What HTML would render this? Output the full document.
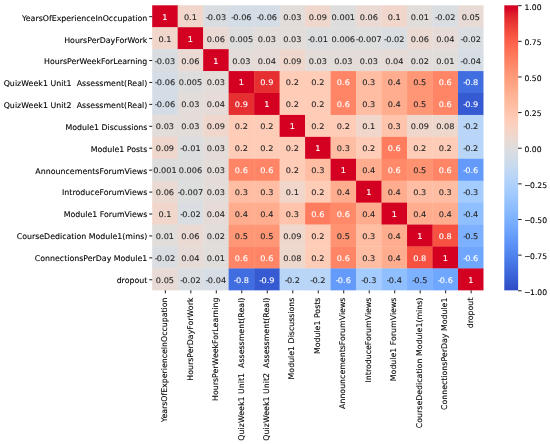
<!DOCTYPE html>
<html lang="en"><head><meta charset="utf-8"><title>Correlation heatmap</title>
<style>html,body{margin:0;padding:0;background:#fff}body{width:550px;height:444px;overflow:hidden}svg{display:block;filter:blur(0.4px)}text{font-family:"DejaVu Sans","Liberation Sans",sans-serif;font-size:7.85px;white-space:pre}.c{font-size:7.65px}.a{font-size:7.75px}.d{fill:#262626;stroke:#262626}.w{fill:#fff;stroke:#fff}.k{fill:#000;stroke:#000}text{stroke-width:0.1px}.m{text-anchor:middle}.e{text-anchor:end}</style></head><body>
<svg width="550" height="444" viewBox="0 0 550 444">
<defs><linearGradient id="cb" x1="0" y1="0" x2="0" y2="1">
<stop offset="0.0000" stop-color="#d30022"/>
<stop offset="0.0156" stop-color="#d80926"/>
<stop offset="0.0312" stop-color="#de1e2a"/>
<stop offset="0.0469" stop-color="#e42c2f"/>
<stop offset="0.0625" stop-color="#e93834"/>
<stop offset="0.0781" stop-color="#ee4339"/>
<stop offset="0.0938" stop-color="#f34d3e"/>
<stop offset="0.1094" stop-color="#f85644"/>
<stop offset="0.1250" stop-color="#fc5e49"/>
<stop offset="0.1406" stop-color="#ff674f"/>
<stop offset="0.1562" stop-color="#ff6f54"/>
<stop offset="0.1719" stop-color="#ff775a"/>
<stop offset="0.1875" stop-color="#ff7e60"/>
<stop offset="0.2031" stop-color="#ff8566"/>
<stop offset="0.2188" stop-color="#ff8d6c"/>
<stop offset="0.2344" stop-color="#ff9373"/>
<stop offset="0.2500" stop-color="#ff9a79"/>
<stop offset="0.2656" stop-color="#ffa07f"/>
<stop offset="0.2812" stop-color="#ffa686"/>
<stop offset="0.2969" stop-color="#ffac8c"/>
<stop offset="0.3125" stop-color="#ffb293"/>
<stop offset="0.3281" stop-color="#ffb799"/>
<stop offset="0.3438" stop-color="#ffbc9f"/>
<stop offset="0.3594" stop-color="#ffc0a6"/>
<stop offset="0.3750" stop-color="#ffc5ac"/>
<stop offset="0.3906" stop-color="#ffc9b3"/>
<stop offset="0.4062" stop-color="#fecdb9"/>
<stop offset="0.4219" stop-color="#fad0bf"/>
<stop offset="0.4375" stop-color="#f6d4c5"/>
<stop offset="0.4531" stop-color="#f0d6cb"/>
<stop offset="0.4688" stop-color="#ebd9d1"/>
<stop offset="0.4844" stop-color="#e5dbd7"/>
<stop offset="0.5000" stop-color="#dedddd"/>
<stop offset="0.5156" stop-color="#d9dde2"/>
<stop offset="0.5312" stop-color="#d4dce6"/>
<stop offset="0.5469" stop-color="#cedbea"/>
<stop offset="0.5625" stop-color="#c8daee"/>
<stop offset="0.5781" stop-color="#c2d8f2"/>
<stop offset="0.5938" stop-color="#bcd6f5"/>
<stop offset="0.6094" stop-color="#b6d4f8"/>
<stop offset="0.6250" stop-color="#b0d1fb"/>
<stop offset="0.6406" stop-color="#aacefc"/>
<stop offset="0.6562" stop-color="#a3cbfe"/>
<stop offset="0.6719" stop-color="#9dc7ff"/>
<stop offset="0.6875" stop-color="#96c3ff"/>
<stop offset="0.7031" stop-color="#90bfff"/>
<stop offset="0.7188" stop-color="#8abbff"/>
<stop offset="0.7344" stop-color="#84b6ff"/>
<stop offset="0.7500" stop-color="#7db1ff"/>
<stop offset="0.7656" stop-color="#77acff"/>
<stop offset="0.7812" stop-color="#71a7fe"/>
<stop offset="0.7969" stop-color="#6ba2fc"/>
<stop offset="0.8125" stop-color="#659cfa"/>
<stop offset="0.8281" stop-color="#6096f8"/>
<stop offset="0.8438" stop-color="#5a90f5"/>
<stop offset="0.8594" stop-color="#558af1"/>
<stop offset="0.8750" stop-color="#5083ee"/>
<stop offset="0.8906" stop-color="#4b7dea"/>
<stop offset="0.9062" stop-color="#4676e6"/>
<stop offset="0.9219" stop-color="#426fe1"/>
<stop offset="0.9375" stop-color="#3d68dc"/>
<stop offset="0.9531" stop-color="#3961d6"/>
<stop offset="0.9688" stop-color="#355ad1"/>
<stop offset="0.9844" stop-color="#3252cb"/>
<stop offset="1.0000" stop-color="#2e4bc5"/>
</linearGradient></defs>
<rect width="550" height="444" fill="#fff"/>
<g>
<rect x="152.20" y="5.30" width="25.78" height="22.23" fill="#d30022"/>
<rect x="177.68" y="5.30" width="25.78" height="22.23" fill="#f0d6cb"/>
<rect x="203.17" y="5.30" width="25.78" height="22.23" fill="#d9dde2"/>
<rect x="228.65" y="5.30" width="25.78" height="22.23" fill="#d4dce6"/>
<rect x="254.14" y="5.30" width="25.78" height="22.23" fill="#d4dce6"/>
<rect x="279.62" y="5.30" width="25.78" height="22.23" fill="#e3dcd9"/>
<rect x="305.11" y="5.30" width="25.78" height="22.23" fill="#efd7cd"/>
<rect x="330.59" y="5.30" width="25.78" height="22.23" fill="#dedddd"/>
<rect x="356.08" y="5.30" width="25.78" height="22.23" fill="#eadad3"/>
<rect x="381.56" y="5.30" width="25.78" height="22.23" fill="#f0d6cb"/>
<rect x="407.05" y="5.30" width="25.78" height="22.23" fill="#e0dddb"/>
<rect x="432.53" y="5.30" width="25.78" height="22.23" fill="#dadde1"/>
<rect x="458.02" y="5.30" width="25.48" height="22.23" fill="#e8dad4"/>
<rect x="152.20" y="27.23" width="25.78" height="22.23" fill="#f0d6cb"/>
<rect x="177.68" y="27.23" width="25.78" height="22.23" fill="#d30022"/>
<rect x="203.17" y="27.23" width="25.78" height="22.23" fill="#eadad3"/>
<rect x="228.65" y="27.23" width="25.78" height="22.23" fill="#dedddd"/>
<rect x="254.14" y="27.23" width="25.78" height="22.23" fill="#e3dcd9"/>
<rect x="279.62" y="27.23" width="25.78" height="22.23" fill="#e3dcd9"/>
<rect x="305.11" y="27.23" width="25.78" height="22.23" fill="#dcdddf"/>
<rect x="330.59" y="27.23" width="25.78" height="22.23" fill="#dedddd"/>
<rect x="356.08" y="27.23" width="25.78" height="22.23" fill="#dddede"/>
<rect x="381.56" y="27.23" width="25.78" height="22.23" fill="#dadde1"/>
<rect x="407.05" y="27.23" width="25.78" height="22.23" fill="#eadad3"/>
<rect x="432.53" y="27.23" width="25.78" height="22.23" fill="#e6dbd6"/>
<rect x="458.02" y="27.23" width="25.48" height="22.23" fill="#dadde1"/>
<rect x="152.20" y="49.15" width="25.78" height="22.23" fill="#d9dde2"/>
<rect x="177.68" y="49.15" width="25.78" height="22.23" fill="#eadad3"/>
<rect x="203.17" y="49.15" width="25.78" height="22.23" fill="#d30022"/>
<rect x="228.65" y="49.15" width="25.78" height="22.23" fill="#e3dcd9"/>
<rect x="254.14" y="49.15" width="25.78" height="22.23" fill="#e6dbd6"/>
<rect x="279.62" y="49.15" width="25.78" height="22.23" fill="#efd7cd"/>
<rect x="305.11" y="49.15" width="25.78" height="22.23" fill="#e3dcd9"/>
<rect x="330.59" y="49.15" width="25.78" height="22.23" fill="#e3dcd9"/>
<rect x="356.08" y="49.15" width="25.78" height="22.23" fill="#e3dcd9"/>
<rect x="381.56" y="49.15" width="25.78" height="22.23" fill="#e6dbd6"/>
<rect x="407.05" y="49.15" width="25.78" height="22.23" fill="#e2dcda"/>
<rect x="432.53" y="49.15" width="25.78" height="22.23" fill="#e0dddb"/>
<rect x="458.02" y="49.15" width="25.48" height="22.23" fill="#d6dde4"/>
<rect x="152.20" y="71.08" width="25.78" height="22.23" fill="#d4dce6"/>
<rect x="177.68" y="71.08" width="25.78" height="22.23" fill="#dedddd"/>
<rect x="203.17" y="71.08" width="25.78" height="22.23" fill="#e3dcd9"/>
<rect x="228.65" y="71.08" width="25.78" height="22.23" fill="#d30022"/>
<rect x="254.14" y="71.08" width="25.78" height="22.23" fill="#e52f30"/>
<rect x="279.62" y="71.08" width="25.78" height="22.23" fill="#ffccb7"/>
<rect x="305.11" y="71.08" width="25.78" height="22.23" fill="#ffccb7"/>
<rect x="330.59" y="71.08" width="25.78" height="22.23" fill="#ff8566"/>
<rect x="356.08" y="71.08" width="25.78" height="22.23" fill="#ffbea3"/>
<rect x="381.56" y="71.08" width="25.78" height="22.23" fill="#ffad8e"/>
<rect x="407.05" y="71.08" width="25.78" height="22.23" fill="#ff9776"/>
<rect x="432.53" y="71.08" width="25.78" height="22.23" fill="#ff8566"/>
<rect x="458.02" y="71.08" width="25.48" height="22.23" fill="#406de0"/>
<rect x="152.20" y="93.01" width="25.78" height="22.23" fill="#d4dce6"/>
<rect x="177.68" y="93.01" width="25.78" height="22.23" fill="#e3dcd9"/>
<rect x="203.17" y="93.01" width="25.78" height="22.23" fill="#e6dbd6"/>
<rect x="228.65" y="93.01" width="25.78" height="22.23" fill="#e52f30"/>
<rect x="254.14" y="93.01" width="25.78" height="22.23" fill="#d30022"/>
<rect x="279.62" y="93.01" width="25.78" height="22.23" fill="#ffccb7"/>
<rect x="305.11" y="93.01" width="25.78" height="22.23" fill="#ffccb7"/>
<rect x="330.59" y="93.01" width="25.78" height="22.23" fill="#ff8566"/>
<rect x="356.08" y="93.01" width="25.78" height="22.23" fill="#ffbea3"/>
<rect x="381.56" y="93.01" width="25.78" height="22.23" fill="#ffad8e"/>
<rect x="407.05" y="93.01" width="25.78" height="22.23" fill="#ff9776"/>
<rect x="432.53" y="93.01" width="25.78" height="22.23" fill="#ff8566"/>
<rect x="458.02" y="93.01" width="25.48" height="22.23" fill="#355ad1"/>
<rect x="152.20" y="114.93" width="25.78" height="22.23" fill="#e3dcd9"/>
<rect x="177.68" y="114.93" width="25.78" height="22.23" fill="#e3dcd9"/>
<rect x="203.17" y="114.93" width="25.78" height="22.23" fill="#efd7cd"/>
<rect x="228.65" y="114.93" width="25.78" height="22.23" fill="#ffccb7"/>
<rect x="254.14" y="114.93" width="25.78" height="22.23" fill="#ffccb7"/>
<rect x="279.62" y="114.93" width="25.78" height="22.23" fill="#d30022"/>
<rect x="305.11" y="114.93" width="25.78" height="22.23" fill="#ffccb7"/>
<rect x="330.59" y="114.93" width="25.78" height="22.23" fill="#ffccb7"/>
<rect x="356.08" y="114.93" width="25.78" height="22.23" fill="#f0d6cb"/>
<rect x="381.56" y="114.93" width="25.78" height="22.23" fill="#ffc4ab"/>
<rect x="407.05" y="114.93" width="25.78" height="22.23" fill="#efd7cd"/>
<rect x="432.53" y="114.93" width="25.78" height="22.23" fill="#eed8ce"/>
<rect x="458.02" y="114.93" width="25.48" height="22.23" fill="#b9d5f7"/>
<rect x="152.20" y="136.86" width="25.78" height="22.23" fill="#efd7cd"/>
<rect x="177.68" y="136.86" width="25.78" height="22.23" fill="#dcdddf"/>
<rect x="203.17" y="136.86" width="25.78" height="22.23" fill="#e3dcd9"/>
<rect x="228.65" y="136.86" width="25.78" height="22.23" fill="#ffccb7"/>
<rect x="254.14" y="136.86" width="25.78" height="22.23" fill="#ffccb7"/>
<rect x="279.62" y="136.86" width="25.78" height="22.23" fill="#ffccb7"/>
<rect x="305.11" y="136.86" width="25.78" height="22.23" fill="#d30022"/>
<rect x="330.59" y="136.86" width="25.78" height="22.23" fill="#ffbea3"/>
<rect x="356.08" y="136.86" width="25.78" height="22.23" fill="#ffccb7"/>
<rect x="381.56" y="136.86" width="25.78" height="22.23" fill="#ff7c5f"/>
<rect x="407.05" y="136.86" width="25.78" height="22.23" fill="#ffccb7"/>
<rect x="432.53" y="136.86" width="25.78" height="22.23" fill="#ffccb7"/>
<rect x="458.02" y="136.86" width="25.48" height="22.23" fill="#b9d5f7"/>
<rect x="152.20" y="158.79" width="25.78" height="22.23" fill="#dedddd"/>
<rect x="177.68" y="158.79" width="25.78" height="22.23" fill="#dedddd"/>
<rect x="203.17" y="158.79" width="25.78" height="22.23" fill="#e3dcd9"/>
<rect x="228.65" y="158.79" width="25.78" height="22.23" fill="#ff8566"/>
<rect x="254.14" y="158.79" width="25.78" height="22.23" fill="#ff8566"/>
<rect x="279.62" y="158.79" width="25.78" height="22.23" fill="#ffccb7"/>
<rect x="305.11" y="158.79" width="25.78" height="22.23" fill="#ffbea3"/>
<rect x="330.59" y="158.79" width="25.78" height="22.23" fill="#d30022"/>
<rect x="356.08" y="158.79" width="25.78" height="22.23" fill="#ffad8e"/>
<rect x="381.56" y="158.79" width="25.78" height="22.23" fill="#ff8969"/>
<rect x="407.05" y="158.79" width="25.78" height="22.23" fill="#ff9271"/>
<rect x="432.53" y="158.79" width="25.78" height="22.23" fill="#ff8566"/>
<rect x="458.02" y="158.79" width="25.48" height="22.23" fill="#649afa"/>
<rect x="152.20" y="180.72" width="25.78" height="22.23" fill="#eadad3"/>
<rect x="177.68" y="180.72" width="25.78" height="22.23" fill="#dddede"/>
<rect x="203.17" y="180.72" width="25.78" height="22.23" fill="#e3dcd9"/>
<rect x="228.65" y="180.72" width="25.78" height="22.23" fill="#ffbea3"/>
<rect x="254.14" y="180.72" width="25.78" height="22.23" fill="#ffbea3"/>
<rect x="279.62" y="180.72" width="25.78" height="22.23" fill="#f0d6cb"/>
<rect x="305.11" y="180.72" width="25.78" height="22.23" fill="#ffccb7"/>
<rect x="330.59" y="180.72" width="25.78" height="22.23" fill="#ffad8e"/>
<rect x="356.08" y="180.72" width="25.78" height="22.23" fill="#d30022"/>
<rect x="381.56" y="180.72" width="25.78" height="22.23" fill="#ffad8e"/>
<rect x="407.05" y="180.72" width="25.78" height="22.23" fill="#ffbea3"/>
<rect x="432.53" y="180.72" width="25.78" height="22.23" fill="#ffbea3"/>
<rect x="458.02" y="180.72" width="25.48" height="22.23" fill="#a5ccfe"/>
<rect x="152.20" y="202.64" width="25.78" height="22.23" fill="#f0d6cb"/>
<rect x="177.68" y="202.64" width="25.78" height="22.23" fill="#dadde1"/>
<rect x="203.17" y="202.64" width="25.78" height="22.23" fill="#e6dbd6"/>
<rect x="228.65" y="202.64" width="25.78" height="22.23" fill="#ffad8e"/>
<rect x="254.14" y="202.64" width="25.78" height="22.23" fill="#ffad8e"/>
<rect x="279.62" y="202.64" width="25.78" height="22.23" fill="#ffc4ab"/>
<rect x="305.11" y="202.64" width="25.78" height="22.23" fill="#ff7c5f"/>
<rect x="330.59" y="202.64" width="25.78" height="22.23" fill="#ff8969"/>
<rect x="356.08" y="202.64" width="25.78" height="22.23" fill="#ffad8e"/>
<rect x="381.56" y="202.64" width="25.78" height="22.23" fill="#d30022"/>
<rect x="407.05" y="202.64" width="25.78" height="22.23" fill="#ffad8e"/>
<rect x="432.53" y="202.64" width="25.78" height="22.23" fill="#ffad8e"/>
<rect x="458.02" y="202.64" width="25.48" height="22.23" fill="#90bfff"/>
<rect x="152.20" y="224.57" width="25.78" height="22.23" fill="#e0dddb"/>
<rect x="177.68" y="224.57" width="25.78" height="22.23" fill="#eadad3"/>
<rect x="203.17" y="224.57" width="25.78" height="22.23" fill="#e2dcda"/>
<rect x="228.65" y="224.57" width="25.78" height="22.23" fill="#ff9776"/>
<rect x="254.14" y="224.57" width="25.78" height="22.23" fill="#ff9776"/>
<rect x="279.62" y="224.57" width="25.78" height="22.23" fill="#efd7cd"/>
<rect x="305.11" y="224.57" width="25.78" height="22.23" fill="#ffccb7"/>
<rect x="330.59" y="224.57" width="25.78" height="22.23" fill="#ff9271"/>
<rect x="356.08" y="224.57" width="25.78" height="22.23" fill="#ffbea3"/>
<rect x="381.56" y="224.57" width="25.78" height="22.23" fill="#ffad8e"/>
<rect x="407.05" y="224.57" width="25.78" height="22.23" fill="#d30022"/>
<rect x="432.53" y="224.57" width="25.78" height="22.23" fill="#f65141"/>
<rect x="458.02" y="224.57" width="25.48" height="22.23" fill="#7db1ff"/>
<rect x="152.20" y="246.50" width="25.78" height="22.23" fill="#dadde1"/>
<rect x="177.68" y="246.50" width="25.78" height="22.23" fill="#e6dbd6"/>
<rect x="203.17" y="246.50" width="25.78" height="22.23" fill="#e0dddb"/>
<rect x="228.65" y="246.50" width="25.78" height="22.23" fill="#ff8566"/>
<rect x="254.14" y="246.50" width="25.78" height="22.23" fill="#ff8566"/>
<rect x="279.62" y="246.50" width="25.78" height="22.23" fill="#eed8ce"/>
<rect x="305.11" y="246.50" width="25.78" height="22.23" fill="#ffccb7"/>
<rect x="330.59" y="246.50" width="25.78" height="22.23" fill="#ff8566"/>
<rect x="356.08" y="246.50" width="25.78" height="22.23" fill="#ffbea3"/>
<rect x="381.56" y="246.50" width="25.78" height="22.23" fill="#ffad8e"/>
<rect x="407.05" y="246.50" width="25.78" height="22.23" fill="#f65141"/>
<rect x="432.53" y="246.50" width="25.78" height="22.23" fill="#d30022"/>
<rect x="458.02" y="246.50" width="25.48" height="22.23" fill="#6fa6fe"/>
<rect x="152.20" y="268.42" width="25.78" height="21.93" fill="#e8dad4"/>
<rect x="177.68" y="268.42" width="25.78" height="21.93" fill="#dadde1"/>
<rect x="203.17" y="268.42" width="25.78" height="21.93" fill="#d6dde4"/>
<rect x="228.65" y="268.42" width="25.78" height="21.93" fill="#406de0"/>
<rect x="254.14" y="268.42" width="25.78" height="21.93" fill="#355ad1"/>
<rect x="279.62" y="268.42" width="25.78" height="21.93" fill="#b9d5f7"/>
<rect x="305.11" y="268.42" width="25.78" height="21.93" fill="#b9d5f7"/>
<rect x="330.59" y="268.42" width="25.78" height="21.93" fill="#649afa"/>
<rect x="356.08" y="268.42" width="25.78" height="21.93" fill="#a5ccfe"/>
<rect x="381.56" y="268.42" width="25.78" height="21.93" fill="#90bfff"/>
<rect x="407.05" y="268.42" width="25.78" height="21.93" fill="#7db1ff"/>
<rect x="432.53" y="268.42" width="25.78" height="21.93" fill="#6fa6fe"/>
<rect x="458.02" y="268.42" width="25.48" height="21.93" fill="#d30022"/>
</g>
<text class="a w m" transform="translate(164.94 19.71) scale(1.060 1)">1</text>
<text class="a d m" transform="translate(190.43 19.71) scale(1.060 1)">0.1</text>
<text class="a d m" transform="translate(215.91 19.71) scale(1.060 1)"><tspan letter-spacing="-0.8">-</tspan>0.03</text>
<text class="a d m" transform="translate(241.40 19.71) scale(1.060 1)"><tspan letter-spacing="-0.8">-</tspan>0.06</text>
<text class="a d m" transform="translate(266.88 19.71) scale(1.060 1)"><tspan letter-spacing="-0.8">-</tspan>0.06</text>
<text class="a d m" transform="translate(292.37 19.71) scale(1.060 1)">0.03</text>
<text class="a d m" transform="translate(317.85 19.71) scale(1.060 1)">0.09</text>
<text class="a d m" transform="translate(343.33 19.71) scale(1.060 1)">0.001</text>
<text class="a d m" transform="translate(368.82 19.71) scale(1.060 1)">0.06</text>
<text class="a d m" transform="translate(394.30 19.71) scale(1.060 1)">0.1</text>
<text class="a d m" transform="translate(419.79 19.71) scale(1.060 1)">0.01</text>
<text class="a d m" transform="translate(445.27 19.71) scale(1.060 1)"><tspan letter-spacing="-0.8">-</tspan>0.02</text>
<text class="a d m" transform="translate(470.76 19.71) scale(1.060 1)">0.05</text>
<text class="a d m" transform="translate(164.94 41.64) scale(1.060 1)">0.1</text>
<text class="a w m" transform="translate(190.43 41.64) scale(1.060 1)">1</text>
<text class="a d m" transform="translate(215.91 41.64) scale(1.060 1)">0.06</text>
<text class="a d m" transform="translate(241.40 41.64) scale(1.060 1)">0.005</text>
<text class="a d m" transform="translate(266.88 41.64) scale(1.060 1)">0.03</text>
<text class="a d m" transform="translate(292.37 41.64) scale(1.060 1)">0.03</text>
<text class="a d m" transform="translate(317.85 41.64) scale(1.060 1)"><tspan letter-spacing="-0.8">-</tspan>0.01</text>
<text class="a d m" transform="translate(343.33 41.64) scale(1.060 1)">0.006</text>
<text class="a d m" transform="translate(368.82 41.64) scale(1.060 1)"><tspan letter-spacing="-0.8">-</tspan>0.007</text>
<text class="a d m" transform="translate(394.30 41.64) scale(1.060 1)"><tspan letter-spacing="-0.8">-</tspan>0.02</text>
<text class="a d m" transform="translate(419.79 41.64) scale(1.060 1)">0.06</text>
<text class="a d m" transform="translate(445.27 41.64) scale(1.060 1)">0.04</text>
<text class="a d m" transform="translate(470.76 41.64) scale(1.060 1)"><tspan letter-spacing="-0.8">-</tspan>0.02</text>
<text class="a d m" transform="translate(164.94 63.57) scale(1.060 1)"><tspan letter-spacing="-0.8">-</tspan>0.03</text>
<text class="a d m" transform="translate(190.43 63.57) scale(1.060 1)">0.06</text>
<text class="a w m" transform="translate(215.91 63.57) scale(1.060 1)">1</text>
<text class="a d m" transform="translate(241.40 63.57) scale(1.060 1)">0.03</text>
<text class="a d m" transform="translate(266.88 63.57) scale(1.060 1)">0.04</text>
<text class="a d m" transform="translate(292.37 63.57) scale(1.060 1)">0.09</text>
<text class="a d m" transform="translate(317.85 63.57) scale(1.060 1)">0.03</text>
<text class="a d m" transform="translate(343.33 63.57) scale(1.060 1)">0.03</text>
<text class="a d m" transform="translate(368.82 63.57) scale(1.060 1)">0.03</text>
<text class="a d m" transform="translate(394.30 63.57) scale(1.060 1)">0.04</text>
<text class="a d m" transform="translate(419.79 63.57) scale(1.060 1)">0.02</text>
<text class="a d m" transform="translate(445.27 63.57) scale(1.060 1)">0.01</text>
<text class="a d m" transform="translate(470.76 63.57) scale(1.060 1)"><tspan letter-spacing="-0.8">-</tspan>0.04</text>
<text class="a d m" transform="translate(164.94 85.49) scale(1.060 1)"><tspan letter-spacing="-0.8">-</tspan>0.06</text>
<text class="a d m" transform="translate(190.43 85.49) scale(1.060 1)">0.005</text>
<text class="a d m" transform="translate(215.91 85.49) scale(1.060 1)">0.03</text>
<text class="a w m" transform="translate(241.40 85.49) scale(1.060 1)">1</text>
<text class="a w m" transform="translate(266.88 85.49) scale(1.060 1)">0.9</text>
<text class="a d m" transform="translate(292.37 85.49) scale(1.060 1)">0.2</text>
<text class="a d m" transform="translate(317.85 85.49) scale(1.060 1)">0.2</text>
<text class="a w m" transform="translate(343.33 85.49) scale(1.060 1)">0.6</text>
<text class="a d m" transform="translate(368.82 85.49) scale(1.060 1)">0.3</text>
<text class="a d m" transform="translate(394.30 85.49) scale(1.060 1)">0.4</text>
<text class="a d m" transform="translate(419.79 85.49) scale(1.060 1)">0.5</text>
<text class="a w m" transform="translate(445.27 85.49) scale(1.060 1)">0.6</text>
<text class="a w m" transform="translate(470.76 85.49) scale(1.060 1)"><tspan letter-spacing="-0.8">-</tspan>0.8</text>
<text class="a d m" transform="translate(164.94 107.42) scale(1.060 1)"><tspan letter-spacing="-0.8">-</tspan>0.06</text>
<text class="a d m" transform="translate(190.43 107.42) scale(1.060 1)">0.03</text>
<text class="a d m" transform="translate(215.91 107.42) scale(1.060 1)">0.04</text>
<text class="a w m" transform="translate(241.40 107.42) scale(1.060 1)">0.9</text>
<text class="a w m" transform="translate(266.88 107.42) scale(1.060 1)">1</text>
<text class="a d m" transform="translate(292.37 107.42) scale(1.060 1)">0.2</text>
<text class="a d m" transform="translate(317.85 107.42) scale(1.060 1)">0.2</text>
<text class="a w m" transform="translate(343.33 107.42) scale(1.060 1)">0.6</text>
<text class="a d m" transform="translate(368.82 107.42) scale(1.060 1)">0.3</text>
<text class="a d m" transform="translate(394.30 107.42) scale(1.060 1)">0.4</text>
<text class="a d m" transform="translate(419.79 107.42) scale(1.060 1)">0.5</text>
<text class="a w m" transform="translate(445.27 107.42) scale(1.060 1)">0.6</text>
<text class="a w m" transform="translate(470.76 107.42) scale(1.060 1)"><tspan letter-spacing="-0.8">-</tspan>0.9</text>
<text class="a d m" transform="translate(164.94 129.35) scale(1.060 1)">0.03</text>
<text class="a d m" transform="translate(190.43 129.35) scale(1.060 1)">0.03</text>
<text class="a d m" transform="translate(215.91 129.35) scale(1.060 1)">0.09</text>
<text class="a d m" transform="translate(241.40 129.35) scale(1.060 1)">0.2</text>
<text class="a d m" transform="translate(266.88 129.35) scale(1.060 1)">0.2</text>
<text class="a w m" transform="translate(292.37 129.35) scale(1.060 1)">1</text>
<text class="a d m" transform="translate(317.85 129.35) scale(1.060 1)">0.2</text>
<text class="a d m" transform="translate(343.33 129.35) scale(1.060 1)">0.2</text>
<text class="a d m" transform="translate(368.82 129.35) scale(1.060 1)">0.1</text>
<text class="a d m" transform="translate(394.30 129.35) scale(1.060 1)">0.3</text>
<text class="a d m" transform="translate(419.79 129.35) scale(1.060 1)">0.09</text>
<text class="a d m" transform="translate(445.27 129.35) scale(1.060 1)">0.08</text>
<text class="a d m" transform="translate(470.76 129.35) scale(1.060 1)"><tspan letter-spacing="-0.8">-</tspan>0.2</text>
<text class="a d m" transform="translate(164.94 151.28) scale(1.060 1)">0.09</text>
<text class="a d m" transform="translate(190.43 151.28) scale(1.060 1)"><tspan letter-spacing="-0.8">-</tspan>0.01</text>
<text class="a d m" transform="translate(215.91 151.28) scale(1.060 1)">0.03</text>
<text class="a d m" transform="translate(241.40 151.28) scale(1.060 1)">0.2</text>
<text class="a d m" transform="translate(266.88 151.28) scale(1.060 1)">0.2</text>
<text class="a d m" transform="translate(292.37 151.28) scale(1.060 1)">0.2</text>
<text class="a w m" transform="translate(317.85 151.28) scale(1.060 1)">1</text>
<text class="a d m" transform="translate(343.33 151.28) scale(1.060 1)">0.3</text>
<text class="a d m" transform="translate(368.82 151.28) scale(1.060 1)">0.2</text>
<text class="a w m" transform="translate(394.30 151.28) scale(1.060 1)">0.6</text>
<text class="a d m" transform="translate(419.79 151.28) scale(1.060 1)">0.2</text>
<text class="a d m" transform="translate(445.27 151.28) scale(1.060 1)">0.2</text>
<text class="a d m" transform="translate(470.76 151.28) scale(1.060 1)"><tspan letter-spacing="-0.8">-</tspan>0.2</text>
<text class="a d m" transform="translate(164.94 173.20) scale(1.060 1)">0.001</text>
<text class="a d m" transform="translate(190.43 173.20) scale(1.060 1)">0.006</text>
<text class="a d m" transform="translate(215.91 173.20) scale(1.060 1)">0.03</text>
<text class="a w m" transform="translate(241.40 173.20) scale(1.060 1)">0.6</text>
<text class="a w m" transform="translate(266.88 173.20) scale(1.060 1)">0.6</text>
<text class="a d m" transform="translate(292.37 173.20) scale(1.060 1)">0.2</text>
<text class="a d m" transform="translate(317.85 173.20) scale(1.060 1)">0.3</text>
<text class="a w m" transform="translate(343.33 173.20) scale(1.060 1)">1</text>
<text class="a d m" transform="translate(368.82 173.20) scale(1.060 1)">0.4</text>
<text class="a w m" transform="translate(394.30 173.20) scale(1.060 1)">0.6</text>
<text class="a d m" transform="translate(419.79 173.20) scale(1.060 1)">0.5</text>
<text class="a w m" transform="translate(445.27 173.20) scale(1.060 1)">0.6</text>
<text class="a w m" transform="translate(470.76 173.20) scale(1.060 1)"><tspan letter-spacing="-0.8">-</tspan>0.6</text>
<text class="a d m" transform="translate(164.94 195.13) scale(1.060 1)">0.06</text>
<text class="a d m" transform="translate(190.43 195.13) scale(1.060 1)"><tspan letter-spacing="-0.8">-</tspan>0.007</text>
<text class="a d m" transform="translate(215.91 195.13) scale(1.060 1)">0.03</text>
<text class="a d m" transform="translate(241.40 195.13) scale(1.060 1)">0.3</text>
<text class="a d m" transform="translate(266.88 195.13) scale(1.060 1)">0.3</text>
<text class="a d m" transform="translate(292.37 195.13) scale(1.060 1)">0.1</text>
<text class="a d m" transform="translate(317.85 195.13) scale(1.060 1)">0.2</text>
<text class="a d m" transform="translate(343.33 195.13) scale(1.060 1)">0.4</text>
<text class="a w m" transform="translate(368.82 195.13) scale(1.060 1)">1</text>
<text class="a d m" transform="translate(394.30 195.13) scale(1.060 1)">0.4</text>
<text class="a d m" transform="translate(419.79 195.13) scale(1.060 1)">0.3</text>
<text class="a d m" transform="translate(445.27 195.13) scale(1.060 1)">0.3</text>
<text class="a d m" transform="translate(470.76 195.13) scale(1.060 1)"><tspan letter-spacing="-0.8">-</tspan>0.3</text>
<text class="a d m" transform="translate(164.94 217.06) scale(1.060 1)">0.1</text>
<text class="a d m" transform="translate(190.43 217.06) scale(1.060 1)"><tspan letter-spacing="-0.8">-</tspan>0.02</text>
<text class="a d m" transform="translate(215.91 217.06) scale(1.060 1)">0.04</text>
<text class="a d m" transform="translate(241.40 217.06) scale(1.060 1)">0.4</text>
<text class="a d m" transform="translate(266.88 217.06) scale(1.060 1)">0.4</text>
<text class="a d m" transform="translate(292.37 217.06) scale(1.060 1)">0.3</text>
<text class="a w m" transform="translate(317.85 217.06) scale(1.060 1)">0.6</text>
<text class="a w m" transform="translate(343.33 217.06) scale(1.060 1)">0.6</text>
<text class="a d m" transform="translate(368.82 217.06) scale(1.060 1)">0.4</text>
<text class="a w m" transform="translate(394.30 217.06) scale(1.060 1)">1</text>
<text class="a d m" transform="translate(419.79 217.06) scale(1.060 1)">0.4</text>
<text class="a d m" transform="translate(445.27 217.06) scale(1.060 1)">0.4</text>
<text class="a d m" transform="translate(470.76 217.06) scale(1.060 1)"><tspan letter-spacing="-0.8">-</tspan>0.4</text>
<text class="a d m" transform="translate(164.94 238.98) scale(1.060 1)">0.01</text>
<text class="a d m" transform="translate(190.43 238.98) scale(1.060 1)">0.06</text>
<text class="a d m" transform="translate(215.91 238.98) scale(1.060 1)">0.02</text>
<text class="a d m" transform="translate(241.40 238.98) scale(1.060 1)">0.5</text>
<text class="a d m" transform="translate(266.88 238.98) scale(1.060 1)">0.5</text>
<text class="a d m" transform="translate(292.37 238.98) scale(1.060 1)">0.09</text>
<text class="a d m" transform="translate(317.85 238.98) scale(1.060 1)">0.2</text>
<text class="a d m" transform="translate(343.33 238.98) scale(1.060 1)">0.5</text>
<text class="a d m" transform="translate(368.82 238.98) scale(1.060 1)">0.3</text>
<text class="a d m" transform="translate(394.30 238.98) scale(1.060 1)">0.4</text>
<text class="a w m" transform="translate(419.79 238.98) scale(1.060 1)">1</text>
<text class="a w m" transform="translate(445.27 238.98) scale(1.060 1)">0.8</text>
<text class="a d m" transform="translate(470.76 238.98) scale(1.060 1)"><tspan letter-spacing="-0.8">-</tspan>0.5</text>
<text class="a d m" transform="translate(164.94 260.91) scale(1.060 1)"><tspan letter-spacing="-0.8">-</tspan>0.02</text>
<text class="a d m" transform="translate(190.43 260.91) scale(1.060 1)">0.04</text>
<text class="a d m" transform="translate(215.91 260.91) scale(1.060 1)">0.01</text>
<text class="a w m" transform="translate(241.40 260.91) scale(1.060 1)">0.6</text>
<text class="a w m" transform="translate(266.88 260.91) scale(1.060 1)">0.6</text>
<text class="a d m" transform="translate(292.37 260.91) scale(1.060 1)">0.08</text>
<text class="a d m" transform="translate(317.85 260.91) scale(1.060 1)">0.2</text>
<text class="a w m" transform="translate(343.33 260.91) scale(1.060 1)">0.6</text>
<text class="a d m" transform="translate(368.82 260.91) scale(1.060 1)">0.3</text>
<text class="a d m" transform="translate(394.30 260.91) scale(1.060 1)">0.4</text>
<text class="a w m" transform="translate(419.79 260.91) scale(1.060 1)">0.8</text>
<text class="a w m" transform="translate(445.27 260.91) scale(1.060 1)">1</text>
<text class="a w m" transform="translate(470.76 260.91) scale(1.060 1)"><tspan letter-spacing="-0.8">-</tspan>0.6</text>
<text class="a d m" transform="translate(164.94 282.84) scale(1.060 1)">0.05</text>
<text class="a d m" transform="translate(190.43 282.84) scale(1.060 1)"><tspan letter-spacing="-0.8">-</tspan>0.02</text>
<text class="a d m" transform="translate(215.91 282.84) scale(1.060 1)"><tspan letter-spacing="-0.8">-</tspan>0.04</text>
<text class="a w m" transform="translate(241.40 282.84) scale(1.060 1)"><tspan letter-spacing="-0.8">-</tspan>0.8</text>
<text class="a w m" transform="translate(266.88 282.84) scale(1.060 1)"><tspan letter-spacing="-0.8">-</tspan>0.9</text>
<text class="a d m" transform="translate(292.37 282.84) scale(1.060 1)"><tspan letter-spacing="-0.8">-</tspan>0.2</text>
<text class="a d m" transform="translate(317.85 282.84) scale(1.060 1)"><tspan letter-spacing="-0.8">-</tspan>0.2</text>
<text class="a w m" transform="translate(343.33 282.84) scale(1.060 1)"><tspan letter-spacing="-0.8">-</tspan>0.6</text>
<text class="a d m" transform="translate(368.82 282.84) scale(1.060 1)"><tspan letter-spacing="-0.8">-</tspan>0.3</text>
<text class="a d m" transform="translate(394.30 282.84) scale(1.060 1)"><tspan letter-spacing="-0.8">-</tspan>0.4</text>
<text class="a d m" transform="translate(419.79 282.84) scale(1.060 1)"><tspan letter-spacing="-0.8">-</tspan>0.5</text>
<text class="a w m" transform="translate(445.27 282.84) scale(1.060 1)"><tspan letter-spacing="-0.8">-</tspan>0.6</text>
<text class="a w m" transform="translate(470.76 282.84) scale(1.060 1)">1</text>
<line x1="149.20" x2="152.20" y1="16.66" y2="16.66" stroke="#000" stroke-width="0.90"/>
<text class="k e" x="147.30" y="20.71" xml:space="preserve">YearsOfExperienceInOccupation</text>
<line x1="149.20" x2="152.20" y1="38.59" y2="38.59" stroke="#000" stroke-width="0.90"/>
<text class="k e" x="147.30" y="42.56" xml:space="preserve">HoursPerDayForWork</text>
<line x1="149.20" x2="152.20" y1="60.52" y2="60.52" stroke="#000" stroke-width="0.90"/>
<text class="k e" x="147.30" y="64.41" xml:space="preserve">HoursPerWeekForLearning</text>
<line x1="149.20" x2="152.20" y1="82.44" y2="82.44" stroke="#000" stroke-width="0.90"/>
<text class="k e" x="147.30" y="86.25" textLength="143.65" xml:space="preserve">QuizWeek1 Unit1  Assessment(Real)</text>
<line x1="149.20" x2="152.20" y1="104.37" y2="104.37" stroke="#000" stroke-width="0.90"/>
<text class="k e" x="147.30" y="108.10" textLength="143.65" xml:space="preserve">QuizWeek1 Unit2  Assessment(Real)</text>
<line x1="149.20" x2="152.20" y1="126.30" y2="126.30" stroke="#000" stroke-width="0.90"/>
<text class="k e" x="147.30" y="129.95" xml:space="preserve">Module1 Discussions</text>
<line x1="149.20" x2="152.20" y1="148.23" y2="148.23" stroke="#000" stroke-width="0.90"/>
<text class="k e" x="147.30" y="151.80" xml:space="preserve">Module1 Posts</text>
<line x1="149.20" x2="152.20" y1="170.15" y2="170.15" stroke="#000" stroke-width="0.90"/>
<text class="k e" x="147.30" y="173.64" textLength="112.05" xml:space="preserve">AnnouncementsForumViews</text>
<line x1="149.20" x2="152.20" y1="192.08" y2="192.08" stroke="#000" stroke-width="0.90"/>
<text class="k e" x="147.30" y="195.49" textLength="85.34" xml:space="preserve">IntroduceForumViews</text>
<line x1="149.20" x2="152.20" y1="214.01" y2="214.01" stroke="#000" stroke-width="0.90"/>
<text class="k e" x="147.30" y="217.34" xml:space="preserve">Module1 ForumViews</text>
<line x1="149.20" x2="152.20" y1="235.93" y2="235.93" stroke="#000" stroke-width="0.90"/>
<text class="k e" x="147.30" y="239.18" xml:space="preserve">CourseDedication Module1(mins)</text>
<line x1="149.20" x2="152.20" y1="257.86" y2="257.86" stroke="#000" stroke-width="0.90"/>
<text class="k e" x="147.30" y="261.03" xml:space="preserve">ConnectionsPerDay Module1</text>
<line x1="149.20" x2="152.20" y1="279.79" y2="279.79" stroke="#000" stroke-width="0.90"/>
<text class="k e" x="147.30" y="282.88" xml:space="preserve">dropout</text>
<line x1="165.34" x2="165.34" y1="290.35" y2="293.35" stroke="#000" stroke-width="0.90"/>
<text class="k e" transform="translate(167.04 297.60) rotate(-90)" textLength="124.64" xml:space="preserve">YearsOfExperienceInOccupation</text>
<line x1="190.83" x2="190.83" y1="290.35" y2="293.35" stroke="#000" stroke-width="0.90"/>
<text class="k e" transform="translate(192.53 297.60) rotate(-90)" xml:space="preserve">HoursPerDayForWork</text>
<line x1="216.31" x2="216.31" y1="290.35" y2="293.35" stroke="#000" stroke-width="0.90"/>
<text class="k e" transform="translate(218.01 297.60) rotate(-90)" xml:space="preserve">HoursPerWeekForLearning</text>
<line x1="241.80" x2="241.80" y1="290.35" y2="293.35" stroke="#000" stroke-width="0.90"/>
<text class="k e" transform="translate(243.50 297.60) rotate(-90)" textLength="143.05" xml:space="preserve">QuizWeek1 Unit1  Assessment(Real)</text>
<line x1="267.28" x2="267.28" y1="290.35" y2="293.35" stroke="#000" stroke-width="0.90"/>
<text class="k e" transform="translate(268.98 297.60) rotate(-90)" textLength="143.05" xml:space="preserve">QuizWeek1 Unit2  Assessment(Real)</text>
<line x1="292.77" x2="292.77" y1="290.35" y2="293.35" stroke="#000" stroke-width="0.90"/>
<text class="k e" transform="translate(294.47 297.60) rotate(-90)" xml:space="preserve">Module1 Discussions</text>
<line x1="318.25" x2="318.25" y1="290.35" y2="293.35" stroke="#000" stroke-width="0.90"/>
<text class="k e" transform="translate(319.95 297.60) rotate(-90)" xml:space="preserve">Module1 Posts</text>
<line x1="343.73" x2="343.73" y1="290.35" y2="293.35" stroke="#000" stroke-width="0.90"/>
<text class="k e" transform="translate(345.43 297.60) rotate(-90)" xml:space="preserve">AnnouncementsForumViews</text>
<line x1="369.22" x2="369.22" y1="290.35" y2="293.35" stroke="#000" stroke-width="0.90"/>
<text class="k e" transform="translate(370.92 297.60) rotate(-90)" xml:space="preserve">IntroduceForumViews</text>
<line x1="394.70" x2="394.70" y1="290.35" y2="293.35" stroke="#000" stroke-width="0.90"/>
<text class="k e" transform="translate(396.40 297.60) rotate(-90)" xml:space="preserve">Module1 ForumViews</text>
<line x1="420.19" x2="420.19" y1="290.35" y2="293.35" stroke="#000" stroke-width="0.90"/>
<text class="k e" transform="translate(421.89 297.60) rotate(-90)" xml:space="preserve">CourseDedication Module1(mins)</text>
<line x1="445.67" x2="445.67" y1="290.35" y2="293.35" stroke="#000" stroke-width="0.90"/>
<text class="k e" transform="translate(447.37 297.60) rotate(-90)" xml:space="preserve">ConnectionsPerDay Module1</text>
<line x1="471.16" x2="471.16" y1="290.35" y2="293.35" stroke="#000" stroke-width="0.90"/>
<text class="k e" transform="translate(472.86 297.60) rotate(-90)" xml:space="preserve">dropout</text>
<rect x="504.30" y="5.30" width="13.85" height="285.05" fill="url(#cb)"/>
<line x1="518.15" x2="521.65" y1="5.70" y2="5.70" stroke="#000" stroke-width="0.90"/>
<text class="k c" x="524.50" y="9.55">1.00</text>
<line x1="518.15" x2="521.65" y1="41.33" y2="41.33" stroke="#000" stroke-width="0.90"/>
<text class="k c" x="524.50" y="45.18">0.75</text>
<line x1="518.15" x2="521.65" y1="76.96" y2="76.96" stroke="#000" stroke-width="0.90"/>
<text class="k c" x="524.50" y="80.81">0.50</text>
<line x1="518.15" x2="521.65" y1="112.59" y2="112.59" stroke="#000" stroke-width="0.90"/>
<text class="k c" x="524.50" y="116.44">0.25</text>
<line x1="518.15" x2="521.65" y1="148.23" y2="148.23" stroke="#000" stroke-width="0.90"/>
<text class="k c" x="524.50" y="152.08">0.00</text>
<line x1="518.15" x2="521.65" y1="183.86" y2="183.86" stroke="#000" stroke-width="0.90"/>
<text class="k c" x="524.15" y="187.71"><tspan letter-spacing="-0.5">−</tspan>0.25</text>
<line x1="518.15" x2="521.65" y1="219.49" y2="219.49" stroke="#000" stroke-width="0.90"/>
<text class="k c" x="524.15" y="223.34"><tspan letter-spacing="-0.5">−</tspan>0.50</text>
<line x1="518.15" x2="521.65" y1="255.12" y2="255.12" stroke="#000" stroke-width="0.90"/>
<text class="k c" x="524.15" y="258.97"><tspan letter-spacing="-0.5">−</tspan>0.75</text>
<line x1="518.15" x2="521.65" y1="290.75" y2="290.75" stroke="#000" stroke-width="0.90"/>
<text class="k c" x="524.15" y="294.60"><tspan letter-spacing="-0.5">−</tspan>1.00</text>
</svg></body></html>
